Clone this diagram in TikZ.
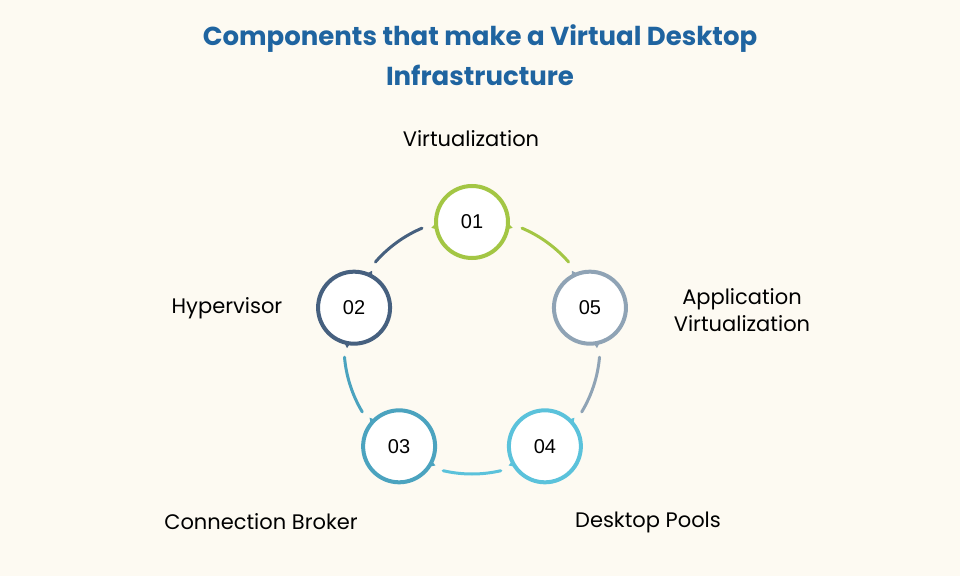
\documentclass[tikz,border=0pt]{standalone}
\usepackage{fontspec}
\setmainfont{Poppins}
\newfontfamily\numfont{Liberation Sans}
\usetikzlibrary{calc}
\definecolor{bgcol}{HTML}{FDFAF2}
\definecolor{titlecol}{HTML}{1F64A0}
\definecolor{cA}{HTML}{A3C644}
\definecolor{cB}{HTML}{46607F}
\definecolor{cC}{HTML}{4BA3BF}
\definecolor{cD}{HTML}{5BC2DB}
\definecolor{cE}{HTML}{8FA3B5}
\begin{document}
\begin{tikzpicture}[x=1pt,y=1pt]
	\tikzstyle{ring}=[circle, minimum size=72pt, line width=4pt, fill=white, font=\numfont\fontsize{20}{22}\selectfont, inner sep=0pt]
	\tikzstyle{lab}=[font=\fontsize{21}{27}\selectfont, align=center]
	\tikzstyle{link}=[line width=3pt, line cap=round]
	\fill[bgcol] (0,0) rectangle (960,576);
	\coordinate (c) at (472,230);
	\node[font=\bfseries\fontsize{26}{40}\selectfont, text=titlecol, align=center] (title) at (480,521) {Components that make a Virtual Desktop\\Infrastructure};
	% arcs between the rings
	\foreach \a/\col in {90/cA, 162/cB, 234/cC, 306/cD, 18/cE}
		\draw[link, \col] ($(c)+(\a-23:128)$) arc[start angle=\a-23, end angle=\a-49, radius=128];
	% rings with their pointed tips
	\foreach \a/\col/\num/\nm in {90/cA/01/n1, 162/cB/02/n2, 234/cC/03/n3, 306/cD/04/n4, 18/cE/05/n5}{
		\fill[\col] ($(c)+(\a+19:125)$) -- ($(c)+(\a+12:134)$) -- ($(c)+(\a+12:116)$) -- cycle;
		\fill[\col] ($(c)+(\a-19:125)$) -- ($(c)+(\a-12:134)$) -- ($(c)+(\a-12:116)$) -- cycle;
		\node[ring, draw=\col] (\nm) at ($(c)+(\a:124)$) {\num};
	}
	\node[lab] (l1) at (471,437) {Virtualization};
	\node[lab] (l2) at (227,268) {Hypervisor};
	\node[lab] (l5) at (742,266) {Application\\Virtualization};
	\node[lab] (l3) at (261,54) {Connection Broker};
	\node[lab] (l4) at (648,54) {Desktop Pools};
\end{tikzpicture}
\end{document}
